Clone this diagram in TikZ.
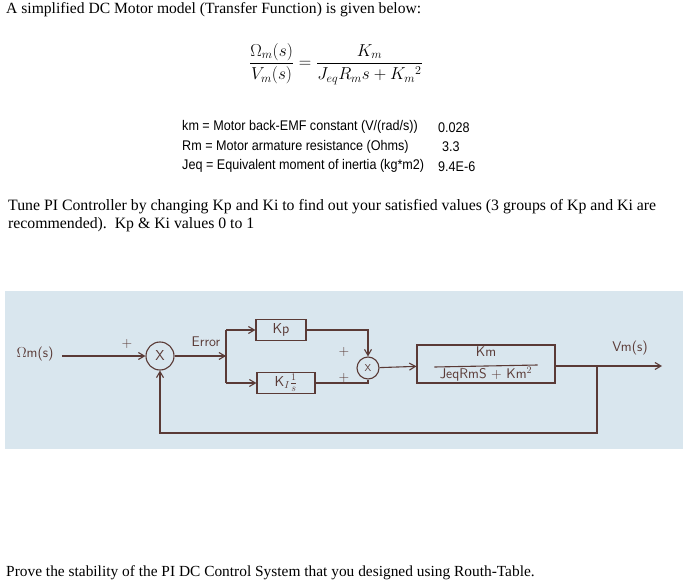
\documentclass[tikz,border=0pt]{standalone}
\usepackage{fontspec}
\setmainfont{Liberation Serif}
\newfontfamily\arial{Liberation Sans}
\usetikzlibrary{arrows.meta}
\begin{document}
\begin{tikzpicture}[x=1pt,y=-1pt,
  txt/.style={anchor=west,inner sep=0pt,font=\fontsize{15.6}{18}\selectfont},
  par/.style={anchor=west,inner sep=0pt,font=\fontsize{14}{16}\arial\addfontfeature{FakeStretch=0.9}},
  blk/.style={draw=hand,line width=1.1pt,minimum height=21pt,inner sep=2pt},
  sumc/.style={draw=hand,line width=1.1pt,circle,inner sep=0pt},
  wire/.style={draw=hand,line width=1.1pt},
  arr/.style={wire,-{Straight Barb[length=6pt,width=7pt]}},
  hw/.style={text=hand,font=\sffamily\fontsize{14}{15}\selectfont,inner sep=1pt}]
\definecolor{bg}{HTML}{D9E6EE}
\definecolor{hand}{HTML}{5A3A36}
\useasboundingbox (0,0) rectangle (687,585);
\fill[white] (0,0) rectangle (687,585);
\node[txt] (t1) at (6,10) {A simplified DC Motor model (Transfer Function) is given below:};
\node (eq) at (336,64) {\fontsize{16.5}{19}\selectfont$\displaystyle\frac{\Omega_m(s)}{V_m(s)}=\frac{K_m}{J_{eq}R_m s+K_m{}^2}$};
\node[par] (p1) at (182,127) {km = Motor back-EMF constant (V/(rad/s))};
\node[par] (p2) at (182,147) {Rm = Motor armature resistance (Ohms)};
\node[par] (p3) at (182,166) {Jeq = Equivalent moment of inertia (kg*m2)};
\node[par] (v1) at (438,128) {0.028};
\node[par] (v2) at (442,147) {3.3};
\node[par] (v3) at (438,167) {9.4E-6};
\node[txt,font=\fontsize{15.8}{17}\selectfont] (t2) at (8,207) {Tune PI Controller by changing Kp and Ki to find out your satisfied values (3 groups of Kp and Ki are};
\node[txt,font=\fontsize{15.8}{17}\selectfont] (t3) at (8,225) {recommended).\ \ Kp \& Ki values 0 to 1};
\node[txt,font=\fontsize{15.4}{17}\selectfont] (t4) at (6,573) {Prove the stability of the PI DC Control System that you designed using Routh-Table.};
% diagram
\fill[bg] (5,291) rectangle (683,449);
\node[hw] (om) at (35,354) {$\Omega$m(s)};
\node[sumc,minimum size=28pt] (s1) at (160,356) {\textcolor{hand}{\sffamily\Large X}};
\node[hw] at (127,344) {+};
\node[hw] at (206,342) {Error};
\coordinate (br) at (226,356);
\node[blk,minimum width=50pt] (kp) at (281,330) {\textcolor{hand}{\sffamily\Large Kp}};
\node[blk,minimum width=58pt] (ki) at (286,383) {\textcolor{hand}{\sffamily\Large K$_I\frac{1}{s}$}};
\node[sumc,minimum size=22pt] (s2) at (368,368) {\textcolor{hand}{\sffamily X}};
\node[hw] at (344,352) {+};
\node[hw] at (344,378) {+};
\node[blk,minimum width=138pt,minimum height=38pt] (g) at (486,364) {};
\draw[wire] ([xshift=18pt,yshift=-3pt]g.west) -- ([xshift=-18pt,yshift=-1pt]g.east);
\node[hw] at (486,352) {Km};
\node[hw] at (486,374) {JeqRmS + Km$^2$};
\node[hw] (vm) at (630,348) {Vm(s)};
\coordinate (out) at (662,366);
\coordinate (tap) at (597,366);
\coordinate (fb) at (597,433);
\draw[arr] (62,356) -- (s1);
\draw[wire] (s1) -- (br);
\draw[arr] (200,356) -- (br);
\draw[wire] (br |- kp) -- (br |- ki);
\draw[arr] (br |- kp) -- (kp);
\draw[arr] (br |- ki) -- (ki);
\draw[arr] (kp) -| (s2);
\draw[wire] (ki) -| (s2);
\draw[arr] (s2) -- (g);
\draw[arr] (g.east |- out) -- (out);
\draw[arr] (tap) -- (fb) -| (s1);
\end{tikzpicture}
\end{document}
